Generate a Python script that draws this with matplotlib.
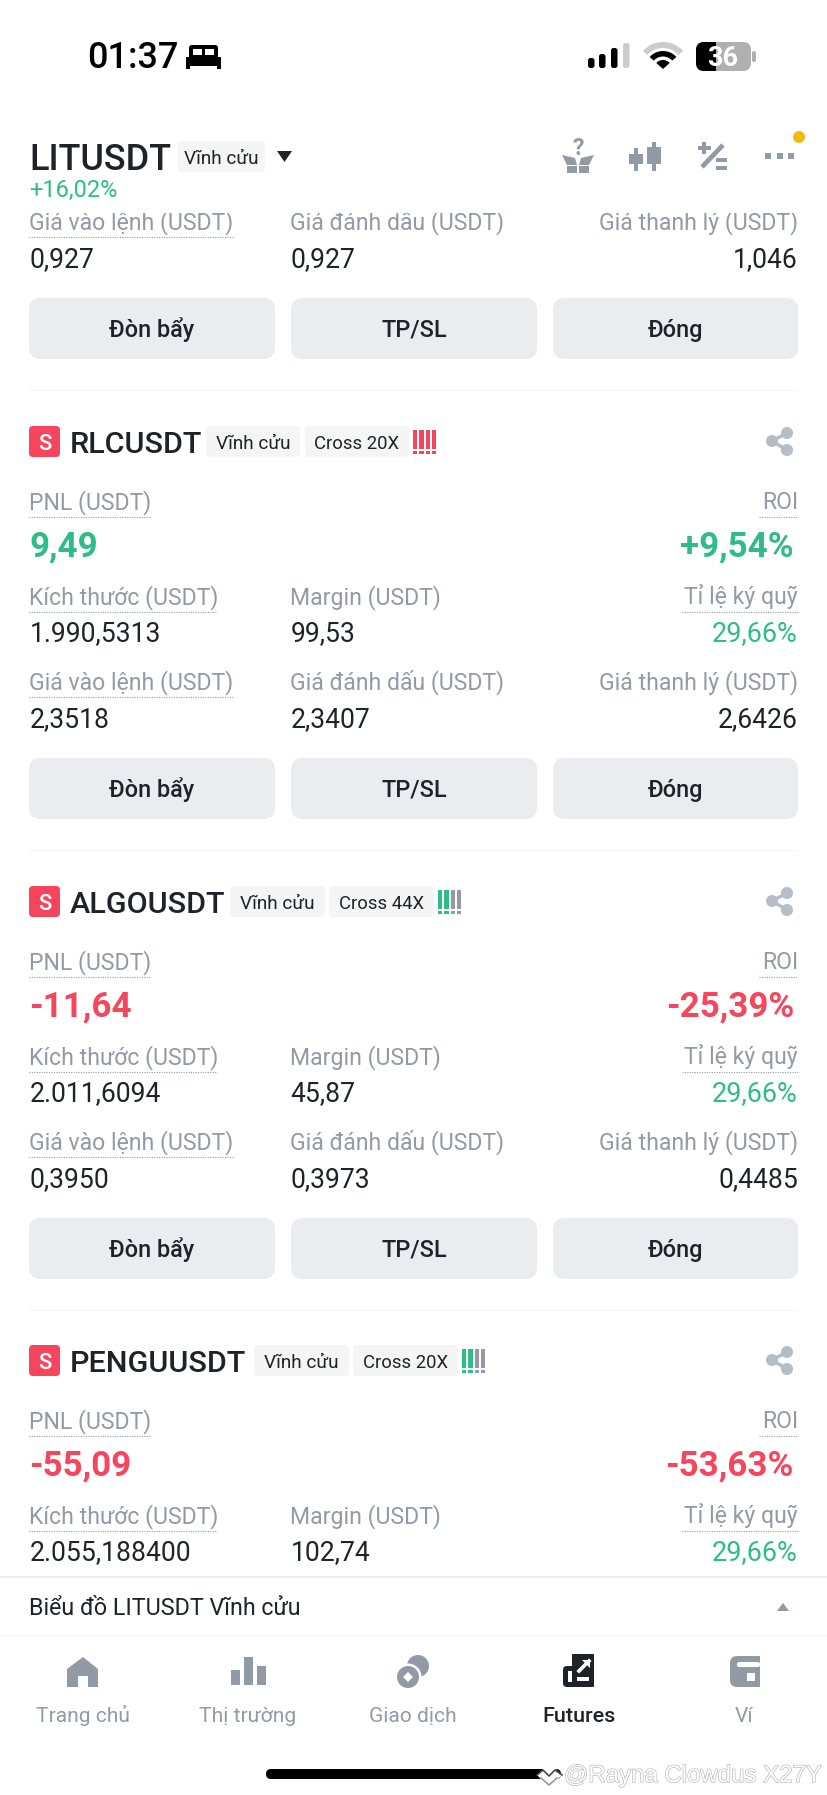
import matplotlib
matplotlib.use("Agg")
import matplotlib.pyplot as plt
import matplotlib.patheffects as pe
from matplotlib.patches import FancyBboxPatch, Rectangle, Polygon, Circle, Wedge

plt.rcParams['font.family'] = ['Roboto', 'Noto Sans', 'DejaVu Sans']

# values
clock = "01:37"
battery = "36"
header_symbol = "LITUSDT"
header_change = "+16,02%"
top_entry = "0,927"
top_mark = "0,927"
top_liq = "1,046"

symbols = ["RLCUSDT", "ALGOUSDT", "PENGUUSDT"]
leverage = ["Cross 20X", "Cross 44X", "Cross 20X"]
pnl = ["9,49", "-11,64", "-55,09"]
roi = ["+9,54%", "-25,39%", "-53,63%"]
size_usdt = ["1.990,5313", "2.011,6094", "2.055,188400"]
margin = ["99,53", "45,87", "102,74"]
margin_ratio = ["29,66%", "29,66%", "29,66%"]
entry = ["2,3518", "0,3950"]
mark = ["2,3407", "0,3973"]
liq = ["2,6426", "0,4485"]
risk_colors = [["red"] * 4, ["green", "green", "grey", "grey"], ["green", "green", "grey", "grey"]]
buttons = ["Đòn bẩy", "TP/SL", "Đóng"]
nav_labels = ["Trang chủ", "Thị trường", "Giao dịch", "Futures", "Ví"]

DARK = "#1e2329"
GREY = "#929aa5"
GREEN = "#2ebd85"
RED = "#f6465d"
BTN = "#eaecef"
TAG = "#f5f5f5"
COL = {"red": RED, "green": GREEN, "grey": GREY}

fig = plt.figure(figsize=(8.28, 17.95), dpi=100)
ax = fig.add_axes([0, 0, 1, 1])
ax.set_xlim(0, 828)
ax.set_ylim(1795, 0)
ax.axis("off")


def txt(x, y, s, px, color=DARK, ha="left", weight="normal", z=3, **kw):
    return ax.text(x, y, s, fontsize=px * 0.72, color=color, ha=ha, va="baseline",
                   fontweight=weight, zorder=z, **kw)


def box(x0, y0, x1, y1, r, color, z=2):
    p = FancyBboxPatch((x0, y0), x1 - x0, y1 - y0, boxstyle=f"round,pad=0,rounding_size={r}",
                       fc=color, ec="none", zorder=z)
    ax.add_patch(p)
    return p


def rect(x0, y0, x1, y1, color, z=2):
    p = Rectangle((x0, y0), x1 - x0, y1 - y0, fc=color, ec="none", zorder=z)
    ax.add_patch(p)
    return p


def poly(pts, color, z=2):
    p = Polygon(pts, closed=True, fc=color, ec="none", zorder=z)
    ax.add_patch(p)
    return p


def label(x, y, s, ha="left", x0=None, x1=None):
    # grey caption, dotted underline if x0/x1 given
    txt(x, y, s, 23, GREY, ha)
    if x0 is not None:
        ax.plot([x0, x1], [y + 8, y + 8], color=GREY, lw=0.8, ls=(0, (1, 1.2)), zorder=3)


def button_row(y):
    for (x0, x1), s in zip([(29, 275), (291, 537), (553, 798)], buttons):
        box(x0, y, x1, y + 61, 12, BTN)
        txt((x0 + x1) / 2, y + 39, s, 23.5, DARK, "center", "medium")


def price_row(y, a, b, c):
    label(29.5, y, "Giá vào lệnh (USDT)", "left", 29, 234)
    label(290.5, y, "Giá đánh dấu (USDT)")
    label(798, y, "Giá thanh lý (USDT)", "right")
    txt(29.5, y + 38, a, 26.5)
    txt(290.5, y + 38, b, 26.5)
    txt(798, y + 38, c, 26.5, DARK, "right")


# partly scrolled card at the top
price_row(229, top_entry, top_mark, top_liq)
button_row(298)
rect(29, 389.5, 798, 391, TAG)

tag_x = [(206, 300, 305, 409), (230, 325, 329, 434), (254, 349, 353, 458)]

for i, sym in enumerate(symbols):
    dy = round(459.5 * i)
    # title row
    box(29, 426 + dy, 60, 457 + dy, 4, RED)
    txt(45, 450 + dy, "S", 22, "white", "center", "medium")
    txt(70, 453 + dy, sym, 30.5, DARK, "left", "medium")
    a, b, c, d = tag_x[i]
    box(a, 426 + dy, b, 457 + dy, 4, TAG)
    box(c, 426 + dy, d, 457 + dy, 4, TAG)
    txt((a + b) / 2, 449 + dy, "Vĩnh cửu", 19, DARK, "center")
    txt((c + d) / 2, 449 + dy, leverage[i], 18.5, DARK, "center")
    for j, col in enumerate(risk_colors[i]):
        bx = d + 4 + j * 6.3
        rect(bx, 430 + dy, bx + 4.3, 449 + dy, COL[col])
        rect(bx, 450.5 + dy, bx + 4.3, 454 + dy, COL[col])
    # share icon
    for cx, cy in [(772, 441), (787, 433), (787, 450)]:
        ax.add_patch(Circle((cx, cy + dy), 6, fc="#b7bdc6", ec="none", zorder=2))
    ax.plot([787, 772, 787], [433 + dy, 441 + dy, 450 + dy], color="#b7bdc6", lw=2.5, zorder=2)

    # pnl / roi
    label(29.5, 509 + dy, "PNL (USDT)", "left", 29, 150)
    label(798, 509 + dy, "ROI", "right", 759, 798)
    pc = GREEN if not pnl[i].startswith("-") else RED
    txt(29.5, 556 + dy, pnl[i], 35, pc, "left", "bold")
    txt(794, 556 + dy, roi[i], 35, pc, "right", "bold")

    # size / margin / ratio
    label(29.5, 604 + dy, "Kích thước (USDT)", "left", 29, 216)
    label(290.5, 604 + dy, "Margin (USDT)")
    label(798, 604 + dy, "Tỉ lệ ký quỹ", "right", 682, 798)
    txt(29.5, 641 + dy, size_usdt[i], 26.5)
    txt(290.5, 641 + dy, margin[i], 26.5)
    txt(798, 641 + dy, margin_ratio[i], 27, GREEN, "right")

    if i < 2:
        price_row(689 + dy, entry[i], mark[i], liq[i])
        button_row(758 + dy)
        rect(29, 849.5 + dy, 798, 851 + dy, TAG)

# header overlay, hides what scrolled under it
rect(0, 0, 828, 213, "white", z=4)

txt(87.5, 68, clock, 36, "black", "left", "medium", z=5)
# bed
box(189, 45, 218, 60, 3, "black", z=5)
rect(193, 49, 202, 55, "white", z=5)
rect(205, 49, 214, 55, "white", z=5)
rect(186, 57, 221, 66, "black", z=5)
rect(186, 66, 190, 69, "black", z=5)
rect(217, 66, 221, 69, "black", z=5)

# signal bars
for x0, y0, col in [(588, 58, "black"), (599, 54, "black"), (611, 48, "black"), (623, 43, "#cccccc")]:
    box(x0, y0, x0 + 6.5, 68, 2.5, col, z=5)
# wifi
ax.add_patch(Wedge((663, 69), 27, 222, 318, width=6, fc="#cccccc", ec="none", zorder=5))
ax.add_patch(Wedge((663, 69), 18, 222, 318, width=5.5, fc="black", ec="none", zorder=5))
ax.add_patch(Wedge((663, 69), 9, 222, 318, fc="black", ec="none", zorder=5))
# battery
box(696, 42, 751, 71, 8, "#b0b0b0", z=5)
b = box(696, 42, 751, 71, 8, "black", z=5)
b.set_clip_path(Rectangle((696, 42), 20, 29, transform=ax.transData))
box(752, 51, 756, 62, 2, "#b0b0b0", z=5)
txt(723, 66, battery, 27, "white", "center", "bold", z=6)

txt(29.5, 170, header_symbol, 36, DARK, "left", "medium", z=5)
box(178, 141, 265, 172, 4, TAG, z=5)
txt(221.5, 164, "Vĩnh cửu", 19, DARK, "center", z=6)
poly([(277, 151), (292, 151), (284.5, 162)], DARK, z=5)
txt(29.5, 197, header_change, 23.5, GREEN, z=5)

# gift icon
txt(578, 155, "?", 23, GREY, "center", "bold", z=5)
poly([(562, 155), (575, 158), (577, 165), (567, 165)], GREY, z=5)
poly([(594, 155), (581, 158), (579, 165), (589, 165)], GREY, z=5)
rect(567, 166, 577, 173, GREY, z=5)
rect(579, 166, 589, 173, GREY, z=5)
# candles
rect(634, 148, 638, 171, GREY, z=5)
rect(629, 154, 643, 164, GREY, z=5)
rect(652, 142, 656, 171, GREY, z=5)
rect(647, 147, 661, 164, GREY, z=5)
# plus / minus
rect(698, 146, 711, 150, GREY, z=5)
rect(702.5, 142, 706.5, 154, GREY, z=5)
ax.plot([702, 723], [167, 145], color=GREY, lw=3.4, zorder=5, solid_capstyle="butt")
rect(716, 158, 727, 162, GREY, z=5)
rect(716, 166, 727, 170, GREY, z=5)
# more
for x0 in [765, 777, 788]:
    rect(x0, 153, x0 + 6.5, 159, GREY, z=5)
ax.add_patch(Circle((799, 137), 6, fc="#f0b90b", ec="none", zorder=5))

# bottom sheet + nav bar
rect(0, 1577, 828, 1795, "white", z=4)
rect(0, 1576, 828, 1578, BTN, z=5)
rect(0, 1634.5, 828, 1636, TAG, z=5)
txt(29.5, 1615, "Biểu đồ LITUSDT Vĩnh cửu", 23.3, DARK, z=5)
poly([(777, 1611), (783, 1603), (789, 1611)], GREY, z=5)

nav_x = [83, 248, 413, 579, 744]
for x, s in zip(nav_x, nav_labels):
    active = s == "Futures"
    txt(x, 1722, s, 21.5 if active else 21, DARK if active else GREY, "center", "medium" if active else "normal", z=5)

# home
poly([(83, 1657), (98, 1669), (98, 1687), (88, 1687), (88, 1676), (78, 1676), (78, 1687), (67, 1687), (67, 1669)], GREY, z=5)
# markets
rect(231, 1670, 240, 1685, GREY, z=5)
rect(244, 1657, 253, 1685, GREY, z=5)
rect(257, 1666, 266, 1685, GREY, z=5)
# trade
ax.add_patch(Circle((418, 1666), 11, fc=GREY, ec="none", zorder=5))
ax.add_patch(Circle((408, 1677), 13.5, fc="white", ec="none", zorder=5))
ax.add_patch(Circle((408, 1677), 11, fc=GREY, ec="none", zorder=5))
poly([(408, 1672), (413, 1677), (408, 1682), (403, 1677)], "white", z=5)
# futures
box(572, 1654, 594, 1687, 1, DARK, z=5)
box(563, 1666, 590, 1687, 4, DARK, z=5)
ax.plot([579, 589], [1671, 1661], color="white", lw=2.6, zorder=6)
poly([(582, 1660), (590, 1660), (590, 1668)], "white", z=6)
rect(577, 1677, 589, 1681, "white", z=6)
rect(568, 1671, 572, 1682, "white", z=6)
# wallet
box(730, 1656, 760, 1687, 7, GREY, z=5)
rect(750, 1656, 760, 1687, GREY, z=5)
box(737, 1662, 760, 1667, 2, "white", z=6)
rect(747, 1673, 755, 1681, "white", z=6)

# home indicator + watermark
box(266, 1769, 561, 1779, 5, "black", z=5)
poly([(549, 1763), (562, 1775), (549, 1787), (537, 1775)], "white", z=6)
ax.plot([537, 543, 549, 555, 562], [1775, 1770, 1776, 1770, 1775], color="#444444", lw=1.2, zorder=7)
ax.plot([541, 549, 557], [1778, 1785, 1778], color="#999999", lw=1.2, zorder=7)
txt(564, 1782, "@Rayna Clowdus X27Y", 24, "white", z=7, family=["Liberation Sans"],
    path_effects=[pe.withStroke(linewidth=0.9, foreground="#b5b5b5")])

fig.savefig("out.png", dpi=100)
